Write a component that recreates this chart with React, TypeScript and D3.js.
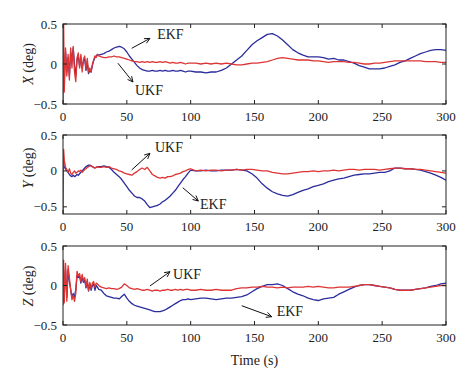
import React from 'react';
import * as d3 from 'd3';

const TIME = [0,0.5,1,2,3,4,5,6,7,8,9,10,11,12,13,14,15,16,17,18,19,20,21,22,23,24,25,26,27,28,
  30,32,34,36,38,40,42,44,46,48,50,52,54,56,58,60,62,64,66,68,70,72,74,76,78,80,82,84,86,88,90,92,94,96,98,100,
  104,108,112,116,120,124,128,132,136,140,144,148,152,156,160,164,168,172,176,180,184,188,192,196,200,204,208,212,216,220,224,228,232,236,240,244,248,252,256,260,264,268,272,276,280,284,288,292,296,300];

const X_EKF = [0.0,0.1,-0.2,0.15,-0.1,0.08,-0.15,0.15,0.05,0.2,0.0,-0.15,0.05,0.1,-0.03,0.08,-0.05,0.04,0.06,-0.08,0.02,-0.12,-0.08,-0.1,-0.02,0.04,0.08,0.1,0.12,0.11,
  0.12,0.13,0.15,0.16,0.18,0.2,0.21,0.22,0.21,0.19,0.15,0.1,0.06,0.02,-0.02,-0.05,-0.07,-0.08,-0.09,-0.09,-0.08,-0.09,-0.09,-0.08,-0.09,-0.08,-0.09,-0.09,-0.08,-0.09,-0.09,-0.08,-0.09,-0.1,-0.09,-0.09,
  -0.1,-0.1,-0.11,-0.1,-0.1,-0.08,-0.05,0.0,0.05,0.1,0.17,0.24,0.29,0.33,0.37,0.38,0.35,0.3,0.24,0.18,0.14,0.11,0.09,0.09,0.09,0.08,0.06,0.07,0.05,0.05,0.03,0.01,-0.02,-0.04,-0.06,-0.06,-0.06,-0.05,-0.03,-0.01,0.02,0.04,0.07,0.1,0.13,0.15,0.17,0.18,0.18,0.17];
const X_UKF = [-0.5,0.5,-0.35,0.2,-0.15,0.12,-0.2,0.2,-0.05,0.22,-0.1,-0.22,0.08,0.14,-0.05,0.12,-0.1,0.06,0.1,-0.06,0.07,-0.1,-0.05,-0.1,0.0,0.05,0.1,0.08,0.12,0.1,
  0.09,0.08,0.08,0.09,0.09,0.1,0.09,0.09,0.08,0.07,0.06,0.05,0.04,0.03,0.03,0.02,0.03,0.02,0.03,0.02,0.03,0.02,0.02,0.03,0.02,0.03,0.02,0.01,0.02,0.01,0.01,0.02,0.01,0.0,0.01,0.01,
  0.01,0.0,0.01,0.0,0.01,0.0,0.01,0.0,-0.01,-0.01,0.0,0.01,0.01,0.02,0.03,0.05,0.07,0.08,0.07,0.06,0.05,0.05,0.05,0.04,0.04,0.03,0.02,0.03,0.03,0.03,0.02,0.02,0.01,0.0,0.0,0.01,0.01,0.02,0.03,0.04,0.04,0.04,0.04,0.04,0.04,0.03,0.03,0.03,0.02,0.02];

const Y_EKF = [0.0,0.1,0.05,0.03,0.0,-0.02,-0.05,-0.07,-0.08,-0.06,-0.08,-0.07,-0.05,-0.06,-0.04,-0.02,0.0,0.02,0.04,0.06,0.07,0.08,0.08,0.07,0.06,0.05,0.04,0.05,0.06,0.06,
  0.06,0.07,0.06,0.05,0.02,-0.02,-0.05,-0.08,-0.12,-0.17,-0.22,-0.27,-0.31,-0.35,-0.37,-0.37,-0.39,-0.42,-0.47,-0.51,-0.5,-0.49,-0.48,-0.46,-0.43,-0.41,-0.38,-0.35,-0.31,-0.27,-0.22,-0.17,-0.12,-0.08,-0.03,0.01,
  0.0,0.0,0.01,0.0,0.0,0.01,0.01,0.01,0.02,0.01,0.0,-0.04,-0.1,-0.18,-0.24,-0.29,-0.32,-0.34,-0.35,-0.33,-0.3,-0.27,-0.25,-0.22,-0.2,-0.18,-0.15,-0.13,-0.11,-0.1,-0.08,-0.06,-0.05,-0.04,-0.04,-0.03,-0.02,-0.02,0.0,0.04,0.04,0.03,0.03,0.02,0.01,-0.01,-0.03,-0.06,-0.09,-0.13];
const Y_UKF = [-0.6,0.3,0.15,0.05,0.02,-0.02,0.03,-0.03,-0.05,-0.02,0.0,-0.03,-0.02,0.0,-0.01,0.01,-0.02,0.0,0.02,0.03,0.05,0.06,0.07,0.07,0.06,0.05,0.04,0.05,0.06,0.05,
  0.05,0.06,0.05,0.06,0.04,0.03,0.02,0.0,-0.01,-0.03,-0.04,-0.05,-0.06,-0.03,-0.01,0.02,0.04,0.02,0.05,0.0,-0.05,-0.07,-0.09,-0.1,-0.09,-0.1,-0.08,-0.08,-0.07,-0.05,-0.04,-0.03,-0.01,0.0,0.02,0.03,
  0.0,0.01,0.0,0.01,0.01,0.0,0.01,0.01,0.02,0.01,0.02,0.02,0.01,0.0,0.0,-0.02,-0.03,-0.04,-0.04,-0.03,-0.02,-0.01,-0.01,0.0,-0.01,0.0,0.0,0.01,0.0,0.01,0.02,0.02,0.01,0.02,0.02,0.02,0.01,0.02,0.03,0.04,0.04,0.03,0.03,0.02,0.02,0.01,0.0,-0.01,-0.02,-0.03];

const Z_EKF = [0.0,0.1,-0.1,0.2,-0.15,0.2,0.05,-0.05,-0.15,-0.1,-0.15,-0.05,0.12,0.1,0.12,0.03,0.1,0.04,0.07,-0.03,0.05,-0.07,0.02,-0.06,0.0,0.02,-0.06,0.0,-0.02,-0.05,
  -0.06,-0.1,-0.13,-0.14,-0.15,-0.16,-0.16,-0.17,-0.14,-0.11,-0.16,-0.2,-0.23,-0.25,-0.26,-0.27,-0.28,-0.29,-0.3,-0.31,-0.32,-0.33,-0.33,-0.33,-0.32,-0.31,-0.29,-0.27,-0.25,-0.23,-0.21,-0.19,-0.18,-0.18,-0.17,-0.18,
  -0.17,-0.16,-0.16,-0.17,-0.18,-0.17,-0.16,-0.16,-0.15,-0.14,-0.12,-0.08,-0.04,-0.01,0.01,0.01,0.02,0.0,-0.04,-0.08,-0.11,-0.13,-0.16,-0.18,-0.19,-0.17,-0.16,-0.15,-0.11,-0.08,-0.05,-0.02,0.0,0.01,0.01,0.0,-0.01,-0.02,-0.03,-0.05,-0.06,-0.06,-0.06,-0.05,-0.04,-0.03,-0.01,0.0,0.02,0.03];
const Z_UKF = [-0.25,0.32,-0.22,0.28,-0.2,0.25,0.1,-0.05,-0.18,-0.12,-0.2,-0.1,0.18,0.12,0.15,0.05,0.14,0.06,0.1,-0.02,0.08,-0.06,0.04,-0.04,0.03,0.05,-0.02,0.03,0.02,0.0,
  -0.02,-0.03,-0.04,-0.03,-0.04,-0.04,-0.05,-0.04,-0.02,0.02,0.0,-0.03,-0.04,-0.05,-0.04,-0.05,-0.06,-0.06,-0.05,-0.06,-0.07,-0.06,-0.06,-0.07,-0.06,-0.06,-0.05,-0.06,-0.06,-0.05,-0.06,-0.05,-0.06,-0.05,-0.05,-0.06,
  -0.06,-0.05,-0.06,-0.06,-0.05,-0.06,-0.06,-0.06,-0.04,-0.03,-0.03,-0.02,-0.02,-0.01,-0.02,-0.02,-0.03,-0.02,-0.03,-0.02,-0.02,-0.02,-0.01,-0.02,-0.01,-0.02,-0.03,-0.03,-0.02,-0.02,-0.02,-0.01,0.0,0.01,0.01,0.0,-0.01,-0.02,-0.03,-0.05,-0.06,-0.06,-0.06,-0.05,-0.04,-0.03,-0.02,-0.01,0.0,0.0];

const X_TICKS = [0, 50, 100, 150, 200, 250, 300];
const Y_TICKS = [-0.5, 0, 0.5];
const Y_LABELS = ['X', 'Y', 'Z'];

// annotations in data units: [text, textT, textV, arrowFromT, arrowFromV, arrowToT, arrowToV]
const ANNOTATIONS = [
  [['EKF', 73.8, 0.38, 53.8, 0.196, 68.1, 0.32], ['UKF', 56.4, -0.325, 43, 0.01, 54.8, -0.225]],
  [['UKF', 72, 0.337, 53.8, 0.013, 68.1, 0.245], ['EKF', 107.3, -0.46, 93.8, -0.234, 106, -0.419]],
  [['UKF', 86.2, 0.146, 68.1, -0.006, 83.8, 0.175], ['EKF', 167.4, -0.33, 140, -0.256, 163.5, -0.395]],
];

const PANELS = [
  { ekf: X_EKF, ukf: X_UKF, domain: [-0.5, 0.5], top: 24, bottom: 104, labelY: 64 },
  { ekf: Y_EKF, ukf: Y_UKF, domain: [-0.6, 0.5], top: 135, bottom: 214, labelY: 168 },
  { ekf: Z_EKF, ukf: Z_UKF, domain: [-0.5, 0.5], top: 246, bottom: 325, labelY: 286 },
];

const BLUE = '#2b2d9c';
const RED = '#dd3434';
const FONT = "'Liberation Serif', 'DejaVu Serif', serif";

function fmt(v: number) {
  if (v === 0) return '0';
  return v < 0 ? '\u2212' + Math.abs(v) : String(v);
}

function Arrow({ x1, y1, x2, y2 }: { x1: number; y1: number; x2: number; y2: number }) {
  const ang = Math.atan2(y2 - y1, x2 - x1);
  const L = 6;
  const a1 = ang + Math.PI - 0.45;
  const a2 = ang + Math.PI + 0.45;
  const d = `M${x1},${y1}L${x2},${y2}M${x2 + L * Math.cos(a1)},${y2 + L * Math.sin(a1)}L${x2},${y2}L${x2 + L * Math.cos(a2)},${y2 + L * Math.sin(a2)}`;
  return <path d={d} fill="none" stroke="#111" strokeWidth={1} />;
}

export default function App() {
  const W = 474, H = 387;
  const left = 63, right = 446;
  const x = d3.scaleLinear().domain([0, 300]).range([left, right]);
  const ts = { fontFamily: FONT };

  return (
    <svg width={W} height={H} style={{ position: 'absolute', left: 0, top: 0, background: '#fff', fontFamily: FONT }}>
      <rect x={0} y={0} width={W} height={H} fill="#fff" />
      {PANELS.map((p, i) => {
        const y = d3.scaleLinear().domain(p.domain).range([p.bottom, p.top]);
        const line = d3.line<number>().x((_, k) => x(TIME[k])).y((v) => y(v)).defined((v) => v !== undefined);
        const clipId = `clip${i}`;
        return (
          <g key={i}>
            <defs>
              <clipPath id={clipId}>
                <rect x={left} y={p.top} width={right - left} height={p.bottom - p.top} />
              </clipPath>
            </defs>
            <g clipPath={`url(#${clipId})`}>
              <path d={line(p.ekf) || ''} fill="none" stroke={BLUE} strokeWidth={1.3} strokeLinejoin="round" />
              <path d={line(p.ukf) || ''} fill="none" stroke={RED} strokeWidth={1.3} strokeLinejoin="round" />
            </g>
            <rect x={left} y={p.top} width={right - left} height={p.bottom - p.top} fill="none" stroke="#222" strokeWidth={1} />
            {X_TICKS.map((t) => (
              <g key={t}>
                <line x1={x(t)} x2={x(t)} y1={p.bottom} y2={p.bottom - 4} stroke="#222" />
                <line x1={x(t)} x2={x(t)} y1={p.top} y2={p.top + 4} stroke="#222" />
                <text x={x(t)} y={p.bottom + 17} fontSize={13} textAnchor="middle" fill="#222" style={ts}>{t}</text>
              </g>
            ))}
            {Y_TICKS.map((v) => (
              <g key={v}>
                <line x1={left} x2={left + 4} y1={y(v)} y2={y(v)} stroke="#222" />
                <line x1={right} x2={right - 4} y1={y(v)} y2={y(v)} stroke="#222" />
                <text x={left - 6} y={y(v)} dy="0.35em" fontSize={13} textAnchor="end" fill="#222" style={ts}>{fmt(v)}</text>
              </g>
            ))}
            <text transform={`translate(28,${p.labelY}) rotate(-90)`} textAnchor="middle" dominantBaseline="central" fontSize={14} fill="#222" style={ts}>
              <tspan fontStyle="italic">{Y_LABELS[i]}</tspan> (deg)
            </text>
            {ANNOTATIONS[i].map((a, k) => {
              const [label, tt, tv, ft, fv, at, av] = a as [string, number, number, number, number, number, number];
              return (
                <g key={k}>
                  <Arrow x1={x(ft)} y1={y(fv)} x2={x(at)} y2={y(av)} />
                  <text x={x(tt)} y={y(tv)} dy="0.35em" fontSize={14} fill="#222" style={ts}>{label}</text>
                </g>
              );
            })}
          </g>
        );
      })}
      <text x={(left + right) / 2} y={365} textAnchor="middle" fontSize={14} fill="#222" style={ts}>Time (s)</text>
    </svg>
  );
}
